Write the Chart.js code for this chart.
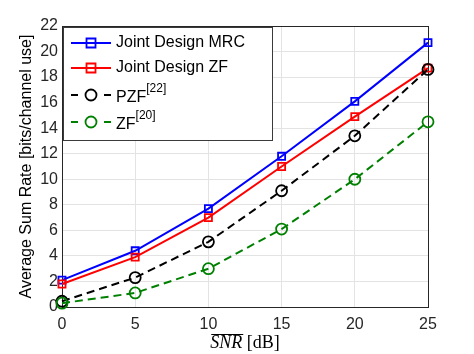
<!DOCTYPE html>
<html>
<head>
<meta charset="utf-8">
<script src="https://cdn.jsdelivr.net/npm/chart.js@4.4.1/dist/chart.umd.min.js"></script>
<style>
  html, body { margin: 0; padding: 0; background: #fff; }
  #wrap { width: 474px; height: 354px; }
</style>
</head>
<body>
<div id="wrap"><canvas id="myChart" width="474" height="354"></canvas></div>
<script>
// data
const snr = [0, 5, 10, 15, 20, 25];
const mrcJoint = [2.1, 4.4, 7.7, 11.8, 16.1, 20.7];
const zfJoint = [1.8, 3.9, 7.0, 11.0, 14.9, 18.7];
const pzf = [0.45, 2.3, 5.1, 9.1, 13.4, 18.6];
const zfRef = [0.3, 1.1, 3.0, 6.1, 10.0, 14.5];
const yTicks = [0, 2, 4, 6, 8, 10, 12, 14, 16, 18, 20, 22];
const xTicks = [0, 5, 10, 15, 20, 25];

const legendNames = [
  ["Joint Design MRC", ""],
  ["Joint Design ZF", ""],
  ["PZF", "[22]"],
  ["ZF", "[20]"]
];

const green = "rgb(0,128,0)";
const font = "Liberation Sans, Arial, sans-serif";

function pts(ys) {
  var out = [];
  for (var i = 0; i < snr.length; i++) {
    out.push({ x: snr[i], y: ys[i] });
  }
  return out;
}

function serie(label, ys, color, shape, dashed, ord) {
  return {
    label: label,
    data: pts(ys),
    borderColor: color,
    backgroundColor: "rgba(0,0,0,0)",
    borderWidth: 2,
    borderDash: dashed ? [8, 5] : [],
    pointStyle: shape,
    pointRadius: shape == "rect" ? 5 : 5.5,
    pointBorderWidth: 1.8,
    pointBorderColor: color,
    pointBackgroundColor: "rgba(0,0,0,0)",
    tension: 0,
    clip: false,
    order: ord
  };
}

// legend in upper left box, plot frame and x title
const extras = {
  id: "extras",
  beforeDatasetsDraw(chart) {
    const ctx = chart.ctx;
    const a = chart.chartArea;
    ctx.save();
    ctx.strokeStyle = "#262626";
    ctx.lineWidth = 1;
    ctx.strokeRect(Math.round(a.left) + 0.5, Math.round(a.top) + 0.5,
      Math.round(a.right - a.left), Math.round(a.bottom - a.top));
    ctx.restore();
  },
  afterDraw(chart) {
    const ctx = chart.ctx;
    ctx.save();
    // legend box
    const bx = 63, by = 27, bw = 209, bh = 113;
    ctx.fillStyle = "#fff";
    ctx.fillRect(bx, by, bw, bh);
    ctx.strokeStyle = "#3a3a3a";
    ctx.lineWidth = 1;
    ctx.strokeRect(bx + 0.5, by + 0.5, bw, bh);
    const rows = [43, 68, 95, 122];
    chart.data.datasets.forEach(function (ds, i) {
      const y = rows[i];
      ctx.strokeStyle = ds.borderColor;
      ctx.lineWidth = 2;
      ctx.beginPath();
      if (ds.borderDash.length) {
        ctx.moveTo(71, y); ctx.lineTo(78, y);
        ctx.moveTo(104, y); ctx.lineTo(111, y);
      } else {
        ctx.moveTo(71, y); ctx.lineTo(111, y);
      }
      ctx.stroke();
      ctx.lineWidth = 1.8;
      ctx.beginPath();
      if (ds.pointStyle == "rect") {
        ctx.rect(86.5, y - 4.5, 9, 9);
      } else {
        ctx.arc(91, y, 5.5, 0, Math.PI * 2);
      }
      ctx.stroke();
      // label
      ctx.fillStyle = "#000";
      ctx.textBaseline = "middle";
      ctx.textAlign = "left";
      ctx.font = "16px " + font;
      const name = legendNames[i];
      const textY = name[1] ? y + 3 : y;
      ctx.fillText(name[0], 116, textY);
      if (name[1]) {
        const w = ctx.measureText(name[0]).width;
        ctx.font = "12px " + font;
        ctx.fillText(name[1], 116 + w, textY - 9);
      }
    });
    // x axis title: overline SNR [dB]
    const a = chart.chartArea;
    const cx = (a.left + a.right) / 2;
    ctx.fillStyle = "#000";
    ctx.textBaseline = "alphabetic";
    ctx.font = "italic 18px Liberation Serif, serif";
    const w1 = ctx.measureText("SNR").width;
    ctx.font = "18px Liberation Serif, serif";
    const w2 = ctx.measureText(" [dB]").width;
    const x0 = cx - (w1 + w2) / 2;
    const base = 348;
    ctx.font = "italic 18px Liberation Serif, serif";
    ctx.textAlign = "left";
    ctx.fillText("SNR", x0, base);
    ctx.font = "18px Liberation Serif, serif";
    ctx.fillText(" [dB]", x0 + w1, base);
    ctx.strokeStyle = "#000";
    ctx.lineWidth = 1;
    ctx.beginPath();
    ctx.moveTo(x0 + 1, 334.5);
    ctx.lineTo(x0 + w1 + 1, 334.5);
    ctx.stroke();
    ctx.restore();
  }
};

const data = {
  datasets: [
    serie("Joint Design MRC", mrcJoint, "#0000ff", "rect", false, 4),
    serie("Joint Design ZF", zfJoint, "#ff0000", "rect", false, 3),
    serie("PZF", pzf, "#000000", "circle", true, 2),
    serie("ZF", zfRef, green, "circle", true, 1)
  ]
};

const config = {
  type: "line",
  data: data,
  options: {
    responsive: false,
    animation: false,
    layout: { padding: { top: 26, right: 46, left: 0, bottom: 0 } },
    plugins: {
      legend: { display: false },
      tooltip: { enabled: false }
    },
    scales: {
      x: {
        type: "linear",
        min: 0,
        max: 25,
        afterBuildTicks: function (axis) {
          axis.ticks = xTicks.map(function (v) { return { value: v }; });
        },
        afterFit: function (axis) { axis.height = 47; },
        grid: { color: "#e3e3e3", drawTicks: false },
        border: { display: false },
        ticks: {
          color: "#262626",
          font: { family: font, size: 16 },
          padding: 8,
          maxRotation: 0
        }
      },
      y: {
        min: 0,
        max: 22,
        afterBuildTicks: function (axis) {
          axis.ticks = yTicks.map(function (v) { return { value: v }; });
        },
        afterFit: function (axis) { axis.width = 62; },
        grid: { color: "#e3e3e3", drawTicks: false },
        border: { display: false },
        ticks: {
          color: "#262626",
          font: { family: font, size: 16 },
          padding: 4
        },
        title: {
          display: true,
          text: "Average Sum Rate [bits/channel use]",
          color: "#000",
          font: { family: font, size: 16 },
          padding: { top: 17, bottom: 2 }
        }
      }
    }
  },
  plugins: [extras]
};

const chartDOM = document.getElementById("myChart");
const myChart = new Chart(chartDOM, config);
</script>
</body>
</html>
